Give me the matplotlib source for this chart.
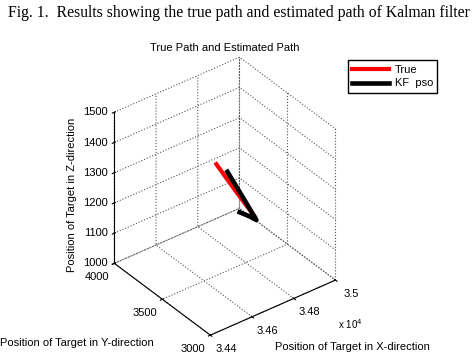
import matplotlib
matplotlib.use("Agg")
import matplotlib.pyplot as plt

# data (x in metres, shown as x 10^4)
true_x = [34659, 34750, 34842]
true_y = [3500, 3500, 3500]
true_z = [1368, 1253, 1140]

kf_x = [34712, 34789, 34851, 34845, 34832]
kf_y = [3500, 3500, 3500, 3560, 3633]
kf_z = [1327, 1216, 1125, 1125, 1125]

x_ticks = [34400, 34600, 34800, 35000]
x_tick_labels = ["3.44", "3.46", "3.48", "3.5"]
y_ticks = [3000, 3500, 4000]
z_ticks = [1000, 1100, 1200, 1300, 1400, 1500]

plt.rcParams["font.family"] = "Liberation Sans"
plt.rcParams["font.size"] = 8

fig = plt.figure(figsize=(4.74, 3.58), dpi=100)
fig.text(0.505, 0.985, "Fig. 1.  Results showing the true path and estimated path of Kalman filter",
         family="Liberation Serif", fontsize=11.3, ha="center", va="top")

ax = fig.add_axes([0.146, 0.049, 0.641, 0.785], projection="3d")
ax.set_proj_type("ortho")
ax.view_init(elev=35, azim=-127.5)
ax.set_box_aspect((1, 1, 1.17))

ax.plot(true_x, true_y, true_z, color="red", lw=3, label="True")
ax.plot(kf_x, kf_y, kf_z, color="black", lw=3.3, label="KF  pso")

ax.set_xlim(34400, 35000)
ax.set_ylim(3000, 4000)
ax.set_zlim(1000, 1500)
ax.set_xticks(x_ticks, [])
ax.set_yticks(y_ticks, [])
ax.set_zticks(z_ticks, [])

# tick labels placed like matlab does, just off each axis
for xv, lab in zip(x_ticks, x_tick_labels):
    ax.text(xv, 2837, 993, lab, ha="center", va="center")
for yv in y_ticks:
    ax.text(34318, yv, 979, str(yv), ha="center", va="center")
for zv in z_ticks:
    ax.text(34379, 4026, zv, str(zv), ha="right", va="center")

for a in (ax.xaxis, ax.yaxis, ax.zaxis):
    a.set_pane_color((1, 1, 1, 0))
    a._axinfo["grid"].update(color="#555555", linestyle=":", linewidth=0.8)
    a._axinfo["axisline"]["color"] = "black"

fig.text(0.475, 0.865, "True Path and Estimated Path", ha="center", va="center")
fig.legend(loc="upper left", bbox_to_anchor=(0.734, 0.832), fancybox=False,
           edgecolor="black", handlelength=3.3, borderpad=0.4, labelspacing=0.35,
           handletextpad=0.5, framealpha=1, borderaxespad=0)
fig.text(0.713, 0.082, r"x 10$^4$", fontsize=7)

fig.text(0.0, 0.033, "Position of Target in Y-direction", ha="left")
fig.text(0.58, 0.022, "Position of Target in X-direction", ha="left")
fig.text(0.141, 0.455, "Position of Target in Z-direction", rotation=90, va="center")

fig.savefig("out.png", dpi=100)
